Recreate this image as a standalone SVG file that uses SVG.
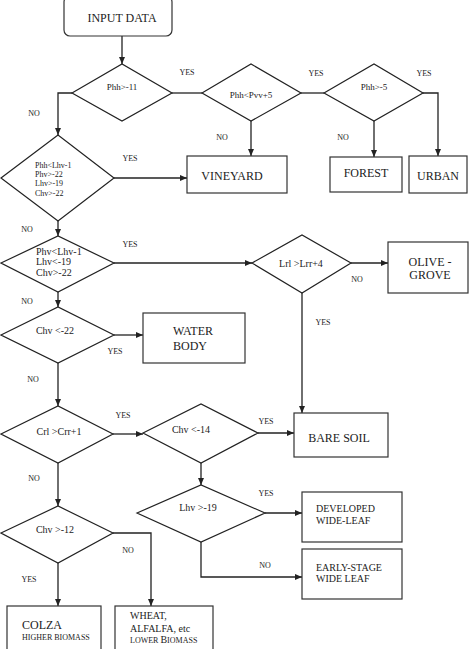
<svg xmlns="http://www.w3.org/2000/svg" width="474" height="649" viewBox="0 0 474 649">
<style>
text{font-family:"Liberation Serif","Times New Roman",serif;fill:#222}
.box{fill:#fff;stroke:#333;stroke-width:1.2}
.dia{fill:#fff;stroke:#222;stroke-width:1.2}
.c{fill:none;stroke:#222;stroke-width:1.3}
.lb{font-size:12px}
.sm{font-size:10px}
.yn{font-size:8px;text-anchor:middle}
.mid{text-anchor:middle}
</style>
<defs>
<marker id="ah" markerUnits="userSpaceOnUse" markerWidth="8" markerHeight="6" refX="7" refY="3" orient="auto">
<path d="M0,0 L7,3 L0,6 z" fill="#222"/>
</marker>
</defs>
<rect width="474" height="649" fill="#fff"/>
<g id="connectors">
<path class="c" d="M122,36 V64" marker-end="url(#ah)"/>
<path class="c" d="M172,93 H202"/>
<path class="c" d="M301,93 H324"/>
<path class="c" d="M423,93 H438 V156" marker-end="url(#ah)"/>
<path class="c" d="M374,121 V157" marker-end="url(#ah)"/>
<path class="c" d="M251,121 V156" marker-end="url(#ah)"/>
<path class="c" d="M72,93 H58 V135" marker-end="url(#ah)"/>
<path class="c" d="M114,178 H187" marker-end="url(#ah)"/>
<path class="c" d="M58,221 V236" marker-end="url(#ah)"/>
<path class="c" d="M114,263 H252" marker-end="url(#ah)"/>
<path class="c" d="M351,263 H388" marker-end="url(#ah)"/>
<path class="c" d="M302,293 V413" marker-end="url(#ah)"/>
<path class="c" d="M58,292 V307" marker-end="url(#ah)"/>
<path class="c" d="M114,335 H143" marker-end="url(#ah)"/>
<path class="c" d="M58,363 V406" marker-end="url(#ah)"/>
<path class="c" d="M113,434 H143" marker-end="url(#ah)"/>
<path class="c" d="M258,433 H294" marker-end="url(#ah)"/>
<path class="c" d="M201,463 V485" marker-end="url(#ah)"/>
<path class="c" d="M265,513 H302" marker-end="url(#ah)"/>
<path class="c" d="M201,542 V577 H302" marker-end="url(#ah)"/>
<path class="c" d="M58,463 V506" marker-end="url(#ah)"/>
<path class="c" d="M58,563 V606" marker-end="url(#ah)"/>
<path class="c" d="M113,533 H151 V606" marker-end="url(#ah)"/>
<text class="yn" x="187" y="75">YES</text>
<text class="yn" x="316" y="76">YES</text>
<text class="yn" x="424" y="76">YES</text>
<text class="yn" x="222" y="140">NO</text>
<text class="yn" x="343" y="140">NO</text>
<text class="yn" x="34" y="116">NO</text>
<text class="yn" x="130" y="161">YES</text>
<text class="yn" x="27" y="232">NO</text>
<text class="yn" x="130" y="247">YES</text>
<text class="yn" x="357" y="282">NO</text>
<text class="yn" x="323" y="325">YES</text>
<text class="yn" x="27" y="304">NO</text>
<text class="yn" x="115" y="354">YES</text>
<text class="yn" x="33" y="382">NO</text>
<text class="yn" x="123" y="418">YES</text>
<text class="yn" x="266" y="424">YES</text>
<text class="yn" x="34" y="481">NO</text>
<text class="yn" x="266" y="496">YES</text>
<text class="yn" x="265" y="568">NO</text>
<text class="yn" x="128" y="553">NO</text>
<text class="yn" x="29" y="582">YES</text>
</g>
<g id="input">
<rect class="box" x="64" y="-4" width="108" height="40" rx="6"/>
<text class="lb mid" x="122" y="22">INPUT DATA</text>
</g>
<g id="d1">
<path class="dia" d="M72,93 L122,64 L172,93 L122,121 Z"/>
<text class="mid" font-size="9" x="122" y="90">Phh&gt;-11</text>
</g>
<g id="d2">
<path class="dia" d="M202,93 L251,64 L301,93 L251,121 Z"/>
<text class="mid" font-size="9" x="251" y="98">Phh&lt;Pvv+5</text>
</g>
<g id="d3">
<path class="dia" d="M324,93 L374,64 L423,93 L374,121 Z"/>
<text class="mid" font-size="9" x="374" y="90">Phh&gt;-5</text>
</g>
<g id="urban">
<rect class="box" x="409" y="156" width="58" height="37"/>
<text class="lb mid" x="438" y="180">URBAN</text>
</g>
<g id="forest">
<rect class="box" x="330" y="157" width="72" height="35"/>
<text class="lb mid" x="366" y="177">FOREST</text>
</g>
<g id="vineyard">
<rect class="box" x="187" y="156" width="100" height="37"/>
<text class="lb mid" x="232" y="180">VINEYARD</text>
</g>
<g id="d4">
<path class="dia" d="M1,178 L58,135 L114,178 L58,221 Z"/>
<text font-size="8" x="35" y="168">Phh&lt;Lhv-1</text>
<text font-size="8" x="35" y="177">Phv&gt;-22</text>
<text font-size="8" x="35" y="186">Lhv&gt;-19</text>
<text font-size="8" x="35" y="196">Chv&gt;-22</text>
</g>
<g id="d5">
<path class="dia" d="M1,263 L58,236 L114,263 L58,292 Z"/>
<text font-size="10" x="36" y="255">Phv&lt;Lhv-1</text>
<text font-size="10" x="36" y="265">Lhv&lt;-19</text>
<text font-size="10" x="36" y="276">Chv&gt;-22</text>
</g>
<g id="d6">
<path class="dia" d="M252,263 L302,235 L351,263 L302,293 Z"/>
<text class="mid" font-size="10" x="301" y="267">Lrl &gt;Lrr+4</text>
</g>
<g id="olive">
<rect class="box" x="388" y="242" width="80" height="51"/>
<text class="lb mid" x="430" y="266">OLIVE -</text>
<text class="lb mid" x="430" y="279">GROVE</text>
</g>
<g id="d7">
<path class="dia" d="M1,335 L58,307 L114,335 L58,363 Z"/>
<text class="mid" font-size="10" x="55" y="334">Chv &lt;-22</text>
</g>
<g id="water">
<rect class="box" x="143" y="313" width="102" height="50"/>
<text class="lb" x="173" y="335">WATER</text>
<text class="lb" x="173" y="350">BODY</text>
</g>
<g id="bare">
<rect class="box" x="294" y="413" width="94" height="44"/>
<text class="lb mid" x="339" y="442">BARE SOIL</text>
</g>
<g id="d8">
<path class="dia" d="M1,434 L58,406 L113,434 L58,463 Z"/>
<text class="mid" font-size="10" x="59" y="435">Crl &gt;Crr+1</text>
</g>
<g id="d9">
<path class="dia" d="M143,433 L201,404 L258,433 L201,463 Z"/>
<text class="mid" font-size="10" x="191" y="433">Chv &lt;-14</text>
</g>
<g id="d10">
<path class="dia" d="M137,513 L201,485 L265,513 L201,542 Z"/>
<text class="mid" font-size="10" x="198" y="511">Lhv &gt;-19</text>
</g>
<g id="developed">
<rect class="box" x="302" y="492" width="100" height="50"/>
<text class="sm" x="316" y="512">DEVELOPED</text>
<text class="sm" x="316" y="524">WIDE-LEAF</text>
</g>
<g id="early">
<rect class="box" x="302" y="549" width="100" height="50"/>
<text class="sm" x="316" y="571">EARLY-STAGE</text>
<text class="sm" x="316" y="582">WIDE LEAF</text>
</g>
<g id="d11">
<path class="dia" d="M1,533 L58,506 L113,533 L58,563 Z"/>
<text class="mid" font-size="10" x="55" y="533">Chv &gt;-12</text>
</g>
<g id="colza">
<rect class="box" x="7" y="606" width="94" height="50"/>
<text class="lb" x="22" y="629">COLZA</text>
<text font-size="8" x="22" y="640">HIGHER BIOMASS</text>
</g>
<g id="wheat">
<rect class="box" x="115" y="606" width="98" height="50"/>
<text class="sm" x="130" y="619">WHEAT,</text>
<text class="sm" x="130" y="632">ALFALFA, etc</text>
<text font-size="8" x="130" y="643">LOWER <tspan font-size="10">B</tspan>IOMASS</text>
</g>
</svg>
